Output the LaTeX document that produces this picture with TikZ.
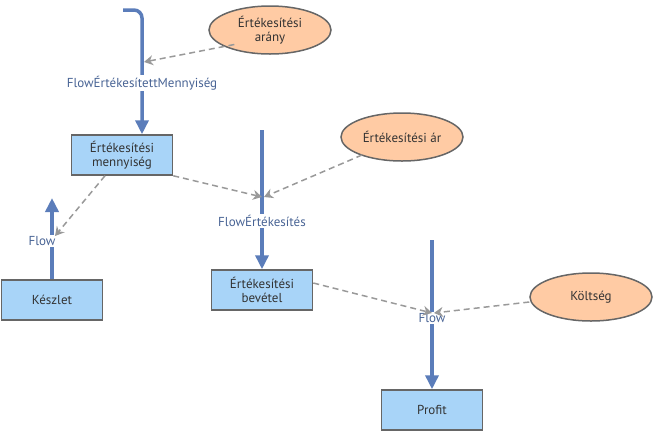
\documentclass[tikz,border=0pt]{standalone}
\usepackage{fontspec}
\setmainfont{PT Sans}
\usetikzlibrary{arrows.meta,shapes.geometric,positioning}
\definecolor{flowblue}{HTML}{5B7DBA}
\definecolor{stockfill}{HTML}{A8D4F8}
\definecolor{auxfill}{HTML}{FFCBA4}
\tikzset{
	stock/.style={rectangle, draw=black!60, line width=1.5pt, fill=stockfill, minimum width=101pt, minimum height=40pt, align=center, font=\fontsize{13}{14}\selectfont, text=black!80},
	aux/.style={ellipse, draw=black!60, line width=1.5pt, fill=auxfill, minimum width=122pt, minimum height=48pt, align=center, inner sep=0pt, font=\fontsize{13}{14}\selectfont, text=black!80},
	flow/.style={draw=flowblue, line width=3.5pt, -{Triangle[width=13pt,length=14pt]}},
	flowlabel/.style={fill=white, inner sep=1pt, text=flowblue!80!black, font=\fontsize{13}{14}\selectfont},
	link/.style={draw=black!40, line width=1.5pt, dash pattern=on 6pt off 4pt, -{Stealth[width=10pt,length=9pt]}}
}
\begin{document}
\begin{tikzpicture}[x=1pt,y=-1pt]
		\useasboundingbox (0,0) rectangle (654,432);
		% stocks
		\node[stock]	(menny) 	at (122,155) 	{Értékesítési\\mennyiség};
		\node[stock] 	(keszlet) 	at (52,300) 	{Készlet};
		\node[stock] 	(bevetel) 	at (262,290) 	{Értékesítési\\bevétel};
		\node[stock] 	(profit) 	at (432,410) 	{Profit};
		% auxiliaries
		\node[aux] 	(arany) 	at (270,30) 	{Értékesítési\\arány};
		\node[aux] 	(ar) 	at (402,137) 	{Értékesítési ár};
		\node[aux] 	(koltseg) 	at (591,297) 	{Költség};
		% flows
		\coordinate (src1) at (123,10);
		\coordinate (src2) at (262,130);
		\coordinate (src3) at (432,240);
		\coordinate (dst1) at (52,198);
		\draw[flow, rounded corners=8pt] (src1) -- (142,10) -- (menny.north -| 142,0);
		\node[flowlabel] (f1) at (142,83) {FlowÉrtékesítettMennyiség};
		\draw[flow] (keszlet.north) -- (dst1);
		\node[flowlabel] (f2) at (42,241) {Flow};
		\draw[flow] (src2) -- (bevetel.north);
		\node[flowlabel] (f3) at (262,221) {FlowÉrtékesítés};
		\draw[flow] (src3) -- (profit.north);
		\node[flowlabel] (f4) at (432,318) {Flow};
		% links
		\coordinate (v1) at (144,62);
		\coordinate (v2) at (55,236);
		\coordinate (v3) at (262,197);
		\coordinate (v4) at (432,313);
		\draw[link] (arany.south west) ++(8,-3) coordinate (a1) (a1) -- (v1);
		\draw[link] ([xshift=-17pt]menny.south) -- (v2);
		\draw[link] (menny.south east) -- (v3);
		\draw[link] (ar) ++(-40,18) coordinate (a2) (a2) -- ([xshift=2pt]v3);
		\draw[link] ([yshift=7pt]bevetel.east) -- (v4);
		\draw[link] (koltseg.west) ++(0,5) coordinate (a3) (a3) -- ([xshift=2pt]v4);
	\end{tikzpicture}
\end{document}
